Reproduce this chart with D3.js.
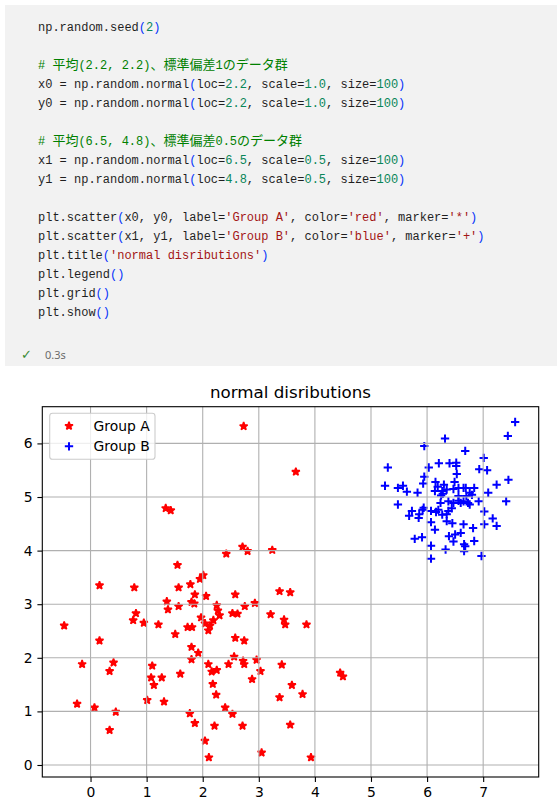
<!DOCTYPE html>
<html><head><meta charset="utf-8">
<script src="https://cdn.jsdelivr.net/npm/d3@7"></script>
<style>body{margin:0;background:#fff;overflow:hidden}</style>
</head><body>
<svg id="c" width="557" height="808"></svg>
<script>
// ---------- data ----------
const redX = [2.73,3.66,1.34,1.43,2.71,2.80,2.42,3.24,1.55,2.01,1.95,0.16,0.78,1.57,1.78,3.37,3.56,2.58,1.86,2.06,1.36,1.38,1.57,1.80,1.85,2.25,2.93,2.75,2.27,2.53,2.62,2.30,3.21,0.81,0.76,0.95,1.21,-0.47,1.73,1.81,1.97,2.19,3.45,3.47,3.85,2.04,2.13,2.10,1.51,2.58,2.74,0.16,1.80,1.92,2.56,-0.15,0.41,0.34,1.10,1.08,1.27,1.13,1.60,1.80,-0.24,0.07,0.45,1.01,1.31,0.34,1.77,1.86,2.72,2.74,2.96,2.46,2.10,3.41,2.16,2.25,3.03,2.88,2.18,3.59,3.78,2.24,3.37,2.40,2.53,2.21,2.71,3.56,2.04,3.05,2.11,3.93,4.45,4.50];
const redY = [6.32,5.47,4.79,4.75,4.07,3.99,3.94,4.01,3.73,3.54,3.47,3.35,3.31,3.31,3.37,3.24,3.22,3.18,3.18,3.15,3.05,2.90,2.96,3.04,3.01,2.98,3.02,2.96,2.88,2.83,2.82,2.79,2.81,2.83,2.70,2.65,2.62,2.60,2.57,2.57,2.75,2.70,2.71,2.62,2.62,2.64,2.60,2.51,2.44,2.37,2.32,2.32,2.20,2.09,2.02,1.88,1.91,1.75,1.85,1.63,1.63,1.49,1.70,1.97,1.14,1.07,0.99,1.21,1.18,0.65,0.96,0.78,1.94,1.88,1.96,1.88,1.88,1.87,1.74,1.77,1.75,1.60,1.51,1.49,1.32,1.31,1.26,1.07,0.95,0.73,0.73,0.75,0.45,0.23,0.14,0.14,1.72,1.65];
const blueX = [7.57,7.44,6.32,5.95,6.68,7.01,5.30,6.03,6.21,6.40,6.52,6.52,6.93,7.07,6.53,5.95,5.93,5.25,5.48,5.57,5.64,5.83,6.15,6.19,6.30,6.14,6.27,6.35,6.49,6.47,6.56,6.65,6.69,6.84,7.24,7.45,7.09,6.76,6.80,5.48,5.73,5.68,5.85,5.86,5.92,5.94,6.07,6.16,6.20,6.24,6.27,6.35,6.38,6.35,6.07,6.14,5.78,5.91,6.07,6.33,6.07,6.39,7.41,6.92,6.38,6.47,6.56,6.60,6.65,6.73,6.76,6.44,7.02,7.17,7.02,7.24,6.45,6.65,6.82,6.50,6.60,6.47,6.66,6.68,6.84,6.66,6.97,6.28,6.25,6.56,6.70];
const blueY = [6.40,6.14,6.09,5.95,5.86,5.73,5.55,5.55,5.63,5.63,5.64,5.58,5.52,5.50,5.43,5.38,5.25,5.21,5.17,5.21,5.10,5.08,5.28,5.19,5.23,5.11,5.11,5.14,5.28,5.15,5.17,5.17,5.17,5.17,5.23,5.32,5.08,5.08,5.04,4.86,4.74,4.65,4.61,4.68,4.76,4.80,4.74,4.72,4.76,4.89,4.67,4.68,4.74,4.55,4.53,4.39,4.22,4.25,4.09,4.02,3.85,4.27,4.92,4.92,4.92,4.89,4.93,4.89,4.92,4.89,4.86,4.79,4.73,4.60,4.49,4.46,4.51,4.49,4.42,4.30,4.33,4.17,4.12,4.08,4.18,3.99,3.90,5.06,5.03,5.02,5.02];
const xTicks = [0,1,2,3,4,5,6,7];
const yTicks = [0,1,2,3,4,5,6];
const xDomain = [-0.86, 7.99];
const yDomain = [-0.224, 6.685];
const seriesNames = ["Group A", "Group B"];
const seriesColors = ["#ff0000", "#0000ff"];
const titleText = "normal disributions";
const statusText = "0.3s";

// code cell: segments [text, kind]
const codeLines = [
  [["np.random.seed","t"],["(","p"],["2","n"],[")","p"]],
  [],
  [["# ","c"],["平均","j"],["(2.2, 2.2)","c"],["、標準偏差","j"],["1","c"],["のデータ群","j"]],
  [["x0 = np.random.normal","t"],["(","p"],["loc=","t"],["2.2","n"],[", scale=","t"],["1.0","n"],[", size=","t"],["100","n"],[")","p"]],
  [["y0 = np.random.normal","t"],["(","p"],["loc=","t"],["2.2","n"],[", scale=","t"],["1.0","n"],[", size=","t"],["100","n"],[")","p"]],
  [],
  [["# ","c"],["平均","j"],["(6.5, 4.8)","c"],["、標準偏差","j"],["0.5","c"],["のデータ群","j"]],
  [["x1 = np.random.normal","t"],["(","p"],["loc=","t"],["6.5","n"],[", scale=","t"],["0.5","n"],[", size=","t"],["100","n"],[")","p"]],
  [["y1 = np.random.normal","t"],["(","p"],["loc=","t"],["4.8","n"],[", scale=","t"],["0.5","n"],[", size=","t"],["100","n"],[")","p"]],
  [],
  [["plt.scatter","t"],["(","p"],["x0, y0, label=","t"],["'Group A'","s"],[", color=","t"],["'red'","s"],[", marker=","t"],["'*'","s"],[")","p"]],
  [["plt.scatter","t"],["(","p"],["x1, y1, label=","t"],["'Group B'","s"],[", color=","t"],["'blue'","s"],[", marker=","t"],["'+'","s"],[")","p"]],
  [["plt.title","t"],["(","p"],["'normal disributions'","s"],[")","p"]],
  [["plt.legend","t"],["()","p"]],
  [["plt.grid","t"],["()","p"]],
  [["plt.show","t"],["()","p"]]
];
const kindColor = {t:"#1f1f1f", p:"#0431fa", n:"#098658", s:"#a31515", c:"#008000", j:"#008000"};

// ---------- drawing ----------
const svg = d3.select("#c");

// code cell
svg.append("rect").attr("x",5).attr("y",5).attr("width",560).attr("height",361).attr("fill","#f2f2f2");
const codeG = svg.append("g");
codeLines.forEach((segs,i)=>{
  const t = codeG.append("text").attr("x",38).attr("y",31+19*i)
    .attr("font-family","'Liberation Mono', monospace").attr("font-size",12)
    .attr("xml:space","preserve").style("white-space","pre");
  segs.forEach(([txt,k])=>{
    const ts = t.append("tspan").attr("fill",kindColor[k]).text(txt);
    if(k==="j") ts.attr("font-family","'Noto Sans CJK JP'").attr("font-size",13);
  });
});
svg.append("text").attr("x",21).attr("y",359).attr("font-family","'DejaVu Sans'").attr("font-size",13)
  .attr("fill","#388a34").text("✓");
svg.append("text").attr("x",45).attr("y",359).attr("font-family","'Noto Sans', sans-serif").attr("font-size",11)
  .attr("fill","#6b6b6b").text(statusText);

// chart
const L=42.3, R=538.7, T=406.7, B=777;
const x = d3.scaleLinear().domain(xDomain).range([L,R]);
const y = d3.scaleLinear().domain(yDomain).range([B,T]);

const starR = 4.17, starIn = 0.381966;
function starPath(r){
  const pts = d3.range(10).map(i=>{
    const a = Math.PI/2 + i*Math.PI/5;
    const rr = i%2===0 ? r : r*starIn;
    return [rr*Math.cos(a), -rr*Math.sin(a)];
  });
  return "M"+pts.map(p=>p[0].toFixed(2)+","+p[1].toFixed(2)).join("L")+"Z";
}
const plusH = 4.17;
function plusPath(h){ return `M${-h},0H${h}M0,${-h}V${h}`; }

const clip = svg.append("clipPath").attr("id","pc").append("rect")
  .attr("x",L).attr("y",T).attr("width",R-L).attr("height",B-T);

const red = redX.map((v,i)=>({x:v,y:redY[i]}));
const blue = blueX.map((v,i)=>({x:v,y:blueY[i]}));

const pts = svg.append("g").attr("clip-path","url(#pc)");
pts.append("g").selectAll("path").data(red).join("path")
  .attr("d",starPath(starR))
  .attr("transform",d=>`translate(${x(d.x)},${y(d.y)})`)
  .attr("fill",seriesColors[0]).attr("stroke",seriesColors[0])
  .attr("stroke-width",1.6).attr("stroke-linejoin","bevel");
pts.append("g").selectAll("path").data(blue).join("path")
  .attr("d",plusPath(plusH))
  .attr("transform",d=>`translate(${x(d.x)},${y(d.y)})`)
  .attr("fill","none").attr("stroke",seriesColors[1]).attr("stroke-width",2.0);

// grid
const grid = svg.append("g").attr("stroke","#b0b0b0").attr("stroke-width",1.1);
grid.selectAll("line.gx").data(xTicks).join("line").attr("class","gx")
  .attr("x1",d=>x(d)).attr("x2",d=>x(d)).attr("y1",T).attr("y2",B);
grid.selectAll("line.gy").data(yTicks).join("line").attr("class","gy")
  .attr("y1",d=>y(d)).attr("y2",d=>y(d)).attr("x1",L).attr("x2",R);

// axes
function styleAxis(g){
  g.select(".domain").remove();
  g.selectAll(".tick line").attr("stroke","#000").attr("stroke-width",1.1);
  g.selectAll(".tick text").attr("fill","#000")
    .attr("font-family","'DejaVu Sans', sans-serif").attr("font-size",13.9);
}
svg.append("g").attr("transform",`translate(0,${B})`)
  .call(d3.axisBottom(x).tickValues(xTicks).tickSize(4.9).tickPadding(4.9).tickFormat(d3.format("d")))
  .call(styleAxis);
svg.append("g").attr("transform",`translate(${L},0)`)
  .call(d3.axisLeft(y).tickValues(yTicks).tickSize(4.9).tickPadding(4.9).tickFormat(d3.format("d")))
  .call(styleAxis);

// frame
svg.append("rect").attr("x",L).attr("y",T).attr("width",R-L).attr("height",B-T)
  .attr("fill","none").attr("stroke","#000").attr("stroke-width",1.1);

// title
svg.append("text").attr("x",(L+R)/2).attr("y",398.4).attr("text-anchor","middle")
  .attr("font-family","'DejaVu Sans', sans-serif").attr("font-size",16.7).attr("fill","#000")
  .text(titleText);

// legend
const lg = svg.append("g");
lg.append("rect").attr("x",49.7).attr("y",413.3).attr("width",105.3).attr("height",46).attr("rx",2.8)
  .attr("fill","#fff").attr("fill-opacity",0.8).attr("stroke","#cccccc").attr("stroke-width",1.1);
const legendRows = seriesNames.map((n,i)=>({name:n, color:seriesColors[i], cy:426+20.3*i, kind:i}));
legendRows.forEach(r=>{
  if(r.kind===0){
    lg.append("path").attr("d",starPath(starR)).attr("transform",`translate(69,${r.cy})`)
      .attr("fill",r.color).attr("stroke",r.color).attr("stroke-width",1.6).attr("stroke-linejoin","bevel");
  } else {
    lg.append("path").attr("d",plusPath(plusH)).attr("transform",`translate(69,${r.cy})`)
      .attr("fill","none").attr("stroke",r.color).attr("stroke-width",2.0);
  }
  lg.append("text").attr("x",93.5).attr("y",r.cy+5)
    .attr("font-family","'DejaVu Sans', sans-serif").attr("font-size",13.9).attr("fill","#000")
    .text(r.name);
});
</script>
</body></html>
